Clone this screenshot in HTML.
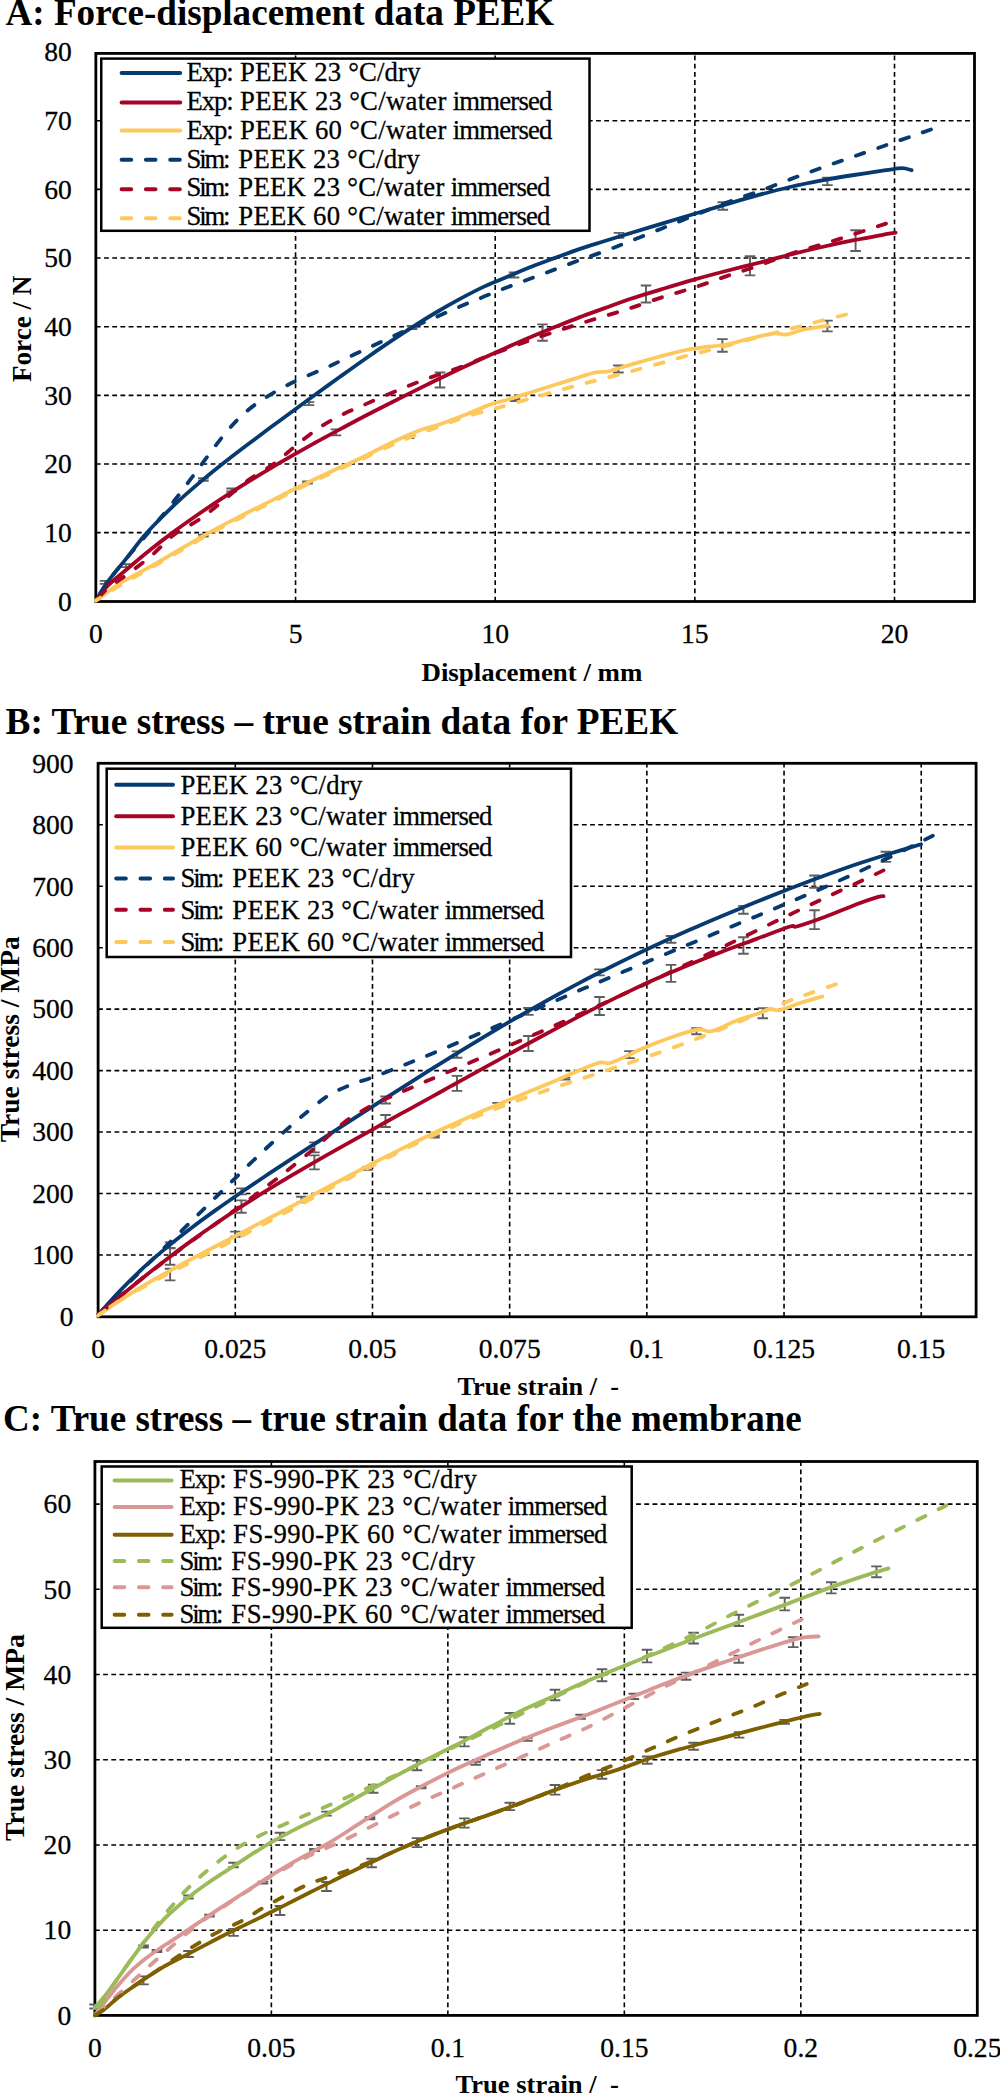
<!DOCTYPE html>
<html lang="en"><head><meta charset="utf-8"><title>Force-displacement and true stress - true strain data</title>
<style>html,body{margin:0;padding:0;background:#fff}body{width:1000px;height:2095px;overflow:hidden}svg{display:block}text{font-family:"Liberation Serif", "DejaVu Serif", serif;fill:#000}text.r{stroke:#000;stroke-width:.3px}</style></head><body>
<svg width="1000" height="2095" viewBox="0 0 1000 2095">
<rect width="1000" height="2095" fill="#fff"/>
<g>
<text transform="translate(5.5 25) scale(1.0035 1)" font-size="37" font-weight="bold" xml:space="preserve">A: Force-displacement data PEEK</text>
<g stroke="#000" stroke-width="1.6" stroke-dasharray="4.8 3.4" fill="none">
<line x1="295.55" y1="601.5" x2="295.55" y2="53.4"/>
<line x1="495.2" y1="601.5" x2="495.2" y2="53.4"/>
<line x1="694.85" y1="601.5" x2="694.85" y2="53.4"/>
<line x1="894.5" y1="601.5" x2="894.5" y2="53.4"/>
<line x1="95.85" y1="532.65" x2="974.5" y2="532.65"/>
<line x1="95.85" y1="464" x2="974.5" y2="464"/>
<line x1="95.85" y1="395.35" x2="974.5" y2="395.35"/>
<line x1="95.85" y1="326.7" x2="974.5" y2="326.7"/>
<line x1="95.85" y1="258.05" x2="974.5" y2="258.05"/>
<line x1="95.85" y1="189.4" x2="974.5" y2="189.4"/>
<line x1="95.85" y1="120.75" x2="974.5" y2="120.75"/>
</g>
<text transform="translate(95.9 643.1) scale(0.975 1)" font-size="28.3" text-anchor="middle" class="r" xml:space="preserve">0</text>
<text transform="translate(295.55 643.1) scale(0.975 1)" font-size="28.3" text-anchor="middle" class="r" xml:space="preserve">5</text>
<text transform="translate(495.2 643.1) scale(0.975 1)" font-size="28.3" text-anchor="middle" class="r" xml:space="preserve">10</text>
<text transform="translate(694.85 643.1) scale(0.975 1)" font-size="28.3" text-anchor="middle" class="r" xml:space="preserve">15</text>
<text transform="translate(894.5 643.1) scale(0.975 1)" font-size="28.3" text-anchor="middle" class="r" xml:space="preserve">20</text>
<text transform="translate(71.8 610.6) scale(0.975 1)" font-size="28.3" text-anchor="end" class="r" xml:space="preserve">0</text>
<text transform="translate(71.8 541.95) scale(0.975 1)" font-size="28.3" text-anchor="end" class="r" xml:space="preserve">10</text>
<text transform="translate(71.8 473.3) scale(0.975 1)" font-size="28.3" text-anchor="end" class="r" xml:space="preserve">20</text>
<text transform="translate(71.8 404.65) scale(0.975 1)" font-size="28.3" text-anchor="end" class="r" xml:space="preserve">30</text>
<text transform="translate(71.8 336) scale(0.975 1)" font-size="28.3" text-anchor="end" class="r" xml:space="preserve">40</text>
<text transform="translate(71.8 267.35) scale(0.975 1)" font-size="28.3" text-anchor="end" class="r" xml:space="preserve">50</text>
<text transform="translate(71.8 198.7) scale(0.975 1)" font-size="28.3" text-anchor="end" class="r" xml:space="preserve">60</text>
<text transform="translate(71.8 130.05) scale(0.975 1)" font-size="28.3" text-anchor="end" class="r" xml:space="preserve">70</text>
<text transform="translate(71.8 61.4) scale(0.975 1)" font-size="28.3" text-anchor="end" class="r" xml:space="preserve">80</text>
<text transform="translate(421.5 680.6) scale(1.0501 1)" font-size="25.6" font-weight="bold" xml:space="preserve">Displacement / mm</text>
<text transform="translate(30.8 328.8) rotate(-90) scale(0.9692 1)" font-size="28" text-anchor="middle" font-weight="bold" xml:space="preserve">Force / N</text>
<rect x="95.85" y="53.4" width="878.65" height="548.1" fill="none" stroke="#000" stroke-width="2.8"/>
<g stroke="#5f5f5f" stroke-width="1.9" fill="none">
<path d="M105 580.9V583.9M99.7 580.9H110.3M99.7 583.9H110.3"/>
<path d="M126 564.1V567.1M120.7 564.1H131.3M120.7 567.1H131.3"/>
<path d="M203.4 478.3V480.7M198.1 478.3H208.7M198.1 480.7H208.7"/>
<path d="M231.6 488.5V491.5M226.3 488.5H236.9M226.3 491.5H236.9"/>
<path d="M203.4 534.6V536.6M198.1 534.6H208.7M198.1 536.6H208.7"/>
<path d="M307.5 481.5V483.5M302.2 481.5H312.8M302.2 483.5H312.8"/>
<path d="M336 429.4V435.4M330.7 429.4H341.3M330.7 435.4H341.3"/>
<path d="M309 402.1V405.1M303.7 402.1H314.3M303.7 405.1H314.3"/>
<path d="M412 326V329M406.7 326H417.3M406.7 329H417.3"/>
<path d="M514 272.5V277.5M508.7 272.5H519.3M508.7 277.5H519.3"/>
<path d="M440 372.5V387.5M434.7 372.5H445.3M434.7 387.5H445.3"/>
<path d="M542.5 324.4V340.8M537.2 324.4H547.8M537.2 340.8H547.8"/>
<path d="M618.4 365.5V372.5M613.1 365.5H623.7M613.1 372.5H623.7"/>
<path d="M619 232.9V237.9M613.7 232.9H624.3M613.7 237.9H624.3"/>
<path d="M515 399V401M509.7 399H520.3M509.7 401H520.3"/>
<path d="M409 436V438M403.7 436H414.3M403.7 438H414.3"/>
<path d="M646 285.5V302.5M640.7 285.5H651.3M640.7 302.5H651.3"/>
<path d="M750 256.2V275.4M744.7 256.2H755.3M744.7 275.4H755.3"/>
<path d="M855.6 230.2V251M850.3 230.2H860.9M850.3 251H860.9"/>
<path d="M722.8 202.2V209.8M717.5 202.2H728.1M717.5 209.8H728.1"/>
<path d="M827.4 177.7V185.1M822.1 177.7H832.7M822.1 185.1H832.7"/>
<path d="M827.4 320.6V331.4M822.1 320.6H832.7M822.1 331.4H832.7"/>
<path d="M722.4 339.1V351.7M717.1 339.1H727.7M717.1 351.7H727.7"/>
</g>
<g fill="none" stroke-width="3.8" stroke-linecap="round" stroke-linejoin="round">
<path d="M96 600.5C98 597.32 103 588.33 108 581.4C113 574.47 120 566.45 126 558.9C132 551.35 138.5 542.58 144 536.1C149.5 529.62 153 526.07 159 520C165 513.93 173 506.13 180 499.7C187 493.27 194 487.3 201 481.4C208 475.5 214.5 470.23 222 464.3C229.5 458.37 238 451.88 246 445.8C254 439.72 262 433.73 270 427.8C278 421.87 287 415.33 294 410.2C301 405.07 304.33 402.57 312 397C319.67 391.43 331.33 383.02 340 376.8C348.67 370.58 356 365.3 364 359.7C372 354.1 380 348.58 388 343.2C396 337.82 404 332.52 412 327.4C420 322.28 428 317.25 436 312.5C444 307.75 452 303.22 460 298.9C468 294.58 476 290.33 484 286.6C492 282.87 500 279.83 508 276.5C516 273.17 524 269.75 532 266.6C540 263.45 548 260.55 556 257.6C564 254.65 572 251.62 580 248.9C588 246.18 595.67 243.92 604 241.3C612.33 238.68 620.33 236.15 630 233.2C639.67 230.25 651.33 226.8 662 223.6C672.67 220.4 683.33 217.2 694 214C704.67 210.8 715.33 207.53 726 204.4C736.67 201.27 747.33 198.1 758 195.2C768.67 192.3 779.33 189.47 790 187C800.67 184.53 811.33 182.4 822 180.4C832.67 178.4 843.33 176.7 854 175C864.67 173.3 878 171.33 886 170.2C894 169.07 897.73 168.2 902 168.2C906.27 168.2 910 169.87 911.6 170.2" stroke="#073a70"/>
<path d="M96 600.5C98 598 103 590.58 108 585.5C113 580.42 119 575.92 126 570C133 564.08 142 556.4 150 550C158 543.6 166 537.52 174 531.6C182 525.68 190 520.03 198 514.5C206 508.97 214 503.63 222 498.4C230 493.17 238 488.07 246 483.1C254 478.13 262 473.33 270 468.6C278 463.87 286 459.27 294 454.7C302 450.13 310 445.62 318 441.2C326 436.78 334.33 432.32 342 428.2C349.67 424.08 356.33 420.5 364 416.5C371.67 412.5 380 408.27 388 404.2C396 400.13 404 396.08 412 392.1C420 388.12 428 384.18 436 380.3C444 376.42 452 372.57 460 368.8C468 365.03 476 361.35 484 357.7C492 354.05 500 350.43 508 346.9C516 343.37 524 339.88 532 336.5C540 333.12 548 329.83 556 326.6C564 323.37 572 320.13 580 317.1C588 314.07 595.67 311.42 604 308.4C612.33 305.38 620.33 302.22 630 299C639.67 295.78 651.33 292.33 662 289.1C672.67 285.87 683.33 282.62 694 279.6C704.67 276.58 715.33 273.77 726 271C736.67 268.23 747.33 265.73 758 263C768.67 260.27 779.33 257.27 790 254.6C800.67 251.93 811.33 249.4 822 247C832.67 244.6 843.33 242.33 854 240.2C864.67 238.07 879.07 235.47 886 234.2C892.93 232.93 894 232.87 895.6 232.6" stroke="#a60426"/>
<path d="M96 600.5C100 597.65 111 589.02 120 583.4C129 577.78 140 572.47 150 566.8C160 561.13 170 555.17 180 549.4C190 543.63 200 537.7 210 532.2C220 526.7 230 521.53 240 516.4C250 511.27 260.75 506.05 270 501.4C279.25 496.75 285.5 493.4 295.5 488.5C305.5 483.6 319.25 477 330 472C340.75 467 349.33 463.58 360 458.5C370.67 453.42 384.33 446.08 394 441.5C403.67 436.92 410 434 418 431C426 428 434 426.25 442 423.5C450 420.75 458 417.65 466 414.5C474 411.35 483 407.1 490 404.6C497 402.1 501 401.6 508 399.5C515 397.4 524 394.5 532 392C540 389.5 548 387 556 384.5C564 382 573.5 379 580 377C586.5 375 590.33 373.42 595 372.5C599.67 371.58 604.17 372.17 608 371.5C611.83 370.83 613.33 369.9 618 368.5C622.67 367.1 629 365.1 636 363.1C643 361.1 652 358.6 660 356.5C668 354.4 677 352 684 350.5C691 349 695 348.5 702 347.5C709 346.5 718 346 726 344.5C734 343 742 340.35 750 338.5C758 336.65 768 334.05 774 333.4C780 332.75 781 335.25 786 334.6C791 333.95 797 331 804 329.5C811 328 824 326.25 828 325.6" stroke="#fdc85c"/>
<path d="M96 600.5C98 597.32 103 588.33 108 581.4C113 574.47 120 566.17 126 558.9C132 551.63 138.5 544.32 144 537.8C149.5 531.28 153.98 525.93 159 519.8C164.02 513.67 169.02 507.52 174.1 501C179.18 494.48 184.88 486.83 189.5 480.7C194.12 474.57 197.77 469.63 201.8 464.2C205.83 458.77 209.75 453.3 213.7 448.1C217.65 442.9 221.57 437.7 225.5 433C229.43 428.3 233.37 423.85 237.3 419.9C241.23 415.95 245.65 412.2 249.1 409.3C252.55 406.4 254.98 404.62 258 402.5C261.02 400.38 263.02 399.12 267.2 396.6C271.38 394.08 277.63 390.33 283.1 387.4C288.57 384.47 293.02 382.18 300 379C306.98 375.82 318.33 371.27 325 368.3C331.67 365.33 333.5 364.27 340 361.2C346.5 358.13 356 353.67 364 349.9C372 346.13 380 342.33 388 338.6C396 334.87 404 331.1 412 327.5C420 323.9 428 320.5 436 317C444 313.5 452 309.9 460 306.5C468 303.1 476 299.85 484 296.6C492 293.35 500 290.1 508 287C516 283.9 524 281 532 278C540 275 548 272 556 269C564 266 572 262.93 580 260C588 257.07 595.67 254.52 604 251.4C612.33 248.28 620.33 245.13 630 241.3C639.67 237.47 651.33 232.68 662 228.4C672.67 224.12 683.33 219.87 694 215.6C704.67 211.33 715.33 206.8 726 202.8C736.67 198.8 747.33 195.5 758 191.6C768.67 187.7 779.33 183.4 790 179.4C800.67 175.4 811.33 171.43 822 167.6C832.67 163.77 843.33 160.13 854 156.4C864.67 152.67 875.33 148.93 886 145.2C896.67 141.47 910.5 136.62 918 134C925.5 131.38 928.83 130.25 931 129.5" stroke="#073a70" stroke-dasharray="8.8 14.8" stroke-dashoffset="16.27"/>
<path d="M96 600.5C98 598.43 103 592.32 108 588.1C113 583.88 119 580.4 126 575.2C133 570 142 563.65 150 556.9C158 550.15 166 540.8 174 534.7C182 528.6 190 525.78 198 520.3C206 514.82 214 508.22 222 501.8C230 495.38 238 487.7 246 481.8C254 475.9 264 470.5 270 466.4C276 462.3 278 460.42 282 457.2C286 453.98 290 450.38 294 447.1C298 443.82 302 440.58 306 437.5C310 434.42 314 431.33 318 428.6C322 425.87 325.5 423.65 330 421.1C334.5 418.55 339.33 416 345 413.3C350.67 410.6 356.83 408.05 364 404.9C371.17 401.75 380 397.8 388 394.4C396 391 404 387.65 412 384.5C420 381.35 428 378.35 436 375.5C444 372.65 452 370.4 460 367.4C468 364.4 476 360.65 484 357.5C492 354.35 500 351.5 508 348.5C516 345.5 524 342.35 532 339.5C540 336.65 548 334.05 556 331.4C564 328.75 572 326.12 580 323.6C588 321.08 595.67 318.85 604 316.3C612.33 313.75 620.33 311.47 630 308.3C639.67 305.13 651.33 300.75 662 297.3C672.67 293.85 683.33 291.08 694 287.6C704.67 284.12 715.33 280.03 726 276.4C736.67 272.77 747.33 269.53 758 265.8C768.67 262.07 779.33 257.57 790 254C800.67 250.43 811.33 247.7 822 244.4C832.67 241.1 843.33 237.67 854 234.2C864.67 230.73 880.67 225.37 886 223.6" stroke="#a60426" stroke-dasharray="8.8 14.8" stroke-dashoffset="19.3"/>
<path d="M96 600.5C100 597.98 111 590.77 120 585.4C129 580.03 140 574.03 150 568.3C160 562.57 170 556.75 180 551C190 545.25 200 539.3 210 533.8C220 528.3 230 523.13 240 518C250 512.87 260.75 507.65 270 503C279.25 498.35 285.5 495.02 295.5 490.1C305.5 485.18 319.25 478.53 330 473.5C340.75 468.47 349.33 464.82 360 459.9C370.67 454.98 384.33 448.28 394 444C403.67 439.72 410 437.28 418 434.2C426 431.12 434 428.42 442 425.5C450 422.58 458 419.28 466 416.7C474 414.12 483 411.95 490 410C497 408.05 501 407 508 405C515 403 524 400.27 532 398C540 395.73 548 393.65 556 391.4C564 389.15 572.17 386.6 580 384.5C587.83 382.4 594.67 380.95 603 378.8C611.33 376.65 620.5 374.17 630 371.6C639.5 369.03 650 366.17 660 363.4C670 360.63 680 357.65 690 355C700 352.35 710 350.1 720 347.5C730 344.9 740 342.05 750 339.4C760 336.75 770 334.23 780 331.6C790 328.97 799 326.45 810 323.6C821 320.75 840 316.02 846 314.5" stroke="#fdc85c" stroke-dasharray="8.8 14.8" stroke-dashoffset="3.75"/>
</g>
<rect x="101.25" y="58.6" width="488.25" height="172.2" fill="#fff" stroke="#000" stroke-width="2.5"/>
<line x1="121.6" y1="73" x2="180.2" y2="73" stroke="#073a70" stroke-width="4" stroke-linecap="round"/>
<text transform="translate(186.5 81.3) scale(0.972 1)" font-size="27.5" class="r" textLength="48.66" lengthAdjust="spacing" xml:space="preserve">Exp:</text>
<text transform="translate(240.1 81.3) scale(0.972 1)" font-size="27.5" class="r" textLength="185.6" lengthAdjust="spacing" xml:space="preserve">PEEK 23 °C/dry</text>
<line x1="121.6" y1="102.4" x2="180.2" y2="102.4" stroke="#a60426" stroke-width="4" stroke-linecap="round"/>
<text transform="translate(186.5 110.4) scale(0.972 1)" font-size="27.5" class="r" textLength="48.66" lengthAdjust="spacing" xml:space="preserve">Exp:</text>
<text transform="translate(240.1 110.4) scale(0.972 1)" font-size="27.5" class="r" textLength="212.24" lengthAdjust="spacing" xml:space="preserve">PEEK 23 °C/water</text>
<text transform="translate(452.7 110.4) scale(0.972 1)" font-size="27.5" class="r" textLength="102.67" lengthAdjust="spacing" xml:space="preserve">immersed</text>
<line x1="121.6" y1="130.4" x2="180.2" y2="130.4" stroke="#fdc85c" stroke-width="4" stroke-linecap="round"/>
<text transform="translate(186.5 138.8) scale(0.972 1)" font-size="27.5" class="r" textLength="48.66" lengthAdjust="spacing" xml:space="preserve">Exp:</text>
<text transform="translate(240.1 138.8) scale(0.972 1)" font-size="27.5" class="r" textLength="212.24" lengthAdjust="spacing" xml:space="preserve">PEEK 60 °C/water</text>
<text transform="translate(452.7 138.8) scale(0.972 1)" font-size="27.5" class="r" textLength="102.67" lengthAdjust="spacing" xml:space="preserve">immersed</text>
<line x1="121.6" y1="159.8" x2="180.2" y2="159.8" stroke="#073a70" stroke-width="4" stroke-linecap="round" stroke-dasharray="9.6 14.7"/>
<text transform="translate(186.5 167.6) scale(0.972 1)" font-size="27.5" class="r" textLength="45.27" lengthAdjust="spacing" xml:space="preserve">Sim:</text>
<text transform="translate(238.3 167.6) scale(0.972 1)" font-size="27.5" class="r" textLength="186.73" lengthAdjust="spacing" xml:space="preserve">PEEK 23 °C/dry</text>
<line x1="121.6" y1="189.2" x2="180.2" y2="189.2" stroke="#a60426" stroke-width="4" stroke-linecap="round" stroke-dasharray="9.6 14.7"/>
<text transform="translate(186.5 196.4) scale(0.972 1)" font-size="27.5" class="r" textLength="45.27" lengthAdjust="spacing" xml:space="preserve">Sim:</text>
<text transform="translate(238.3 196.4) scale(0.972 1)" font-size="27.5" class="r" textLength="212.04" lengthAdjust="spacing" xml:space="preserve">PEEK 23 °C/water</text>
<text transform="translate(450.7 196.4) scale(0.972 1)" font-size="27.5" class="r" textLength="102.67" lengthAdjust="spacing" xml:space="preserve">immersed</text>
<line x1="121.6" y1="218.2" x2="180.2" y2="218.2" stroke="#fdc85c" stroke-width="4" stroke-linecap="round" stroke-dasharray="9.6 14.7"/>
<text transform="translate(186.5 225.2) scale(0.972 1)" font-size="27.5" class="r" textLength="45.27" lengthAdjust="spacing" xml:space="preserve">Sim:</text>
<text transform="translate(238.3 225.2) scale(0.972 1)" font-size="27.5" class="r" textLength="212.04" lengthAdjust="spacing" xml:space="preserve">PEEK 60 °C/water</text>
<text transform="translate(450.7 225.2) scale(0.972 1)" font-size="27.5" class="r" textLength="102.67" lengthAdjust="spacing" xml:space="preserve">immersed</text>
</g>
<g>
<text transform="translate(5.5 733.6) scale(1.0085 1)" font-size="37" font-weight="bold" xml:space="preserve">B: True stress – true strain data for PEEK</text>
<g stroke="#000" stroke-width="1.6" stroke-dasharray="4.8 3.4" fill="none">
<line x1="235.29" y1="1316.8" x2="235.29" y2="763.3"/>
<line x1="372.48" y1="1316.8" x2="372.48" y2="763.3"/>
<line x1="509.66" y1="1316.8" x2="509.66" y2="763.3"/>
<line x1="646.85" y1="1316.8" x2="646.85" y2="763.3"/>
<line x1="784.04" y1="1316.8" x2="784.04" y2="763.3"/>
<line x1="921.23" y1="1316.8" x2="921.23" y2="763.3"/>
<line x1="98.1" y1="1254.95" x2="976.1" y2="1254.95"/>
<line x1="98.1" y1="1193.5" x2="976.1" y2="1193.5"/>
<line x1="98.1" y1="1132.05" x2="976.1" y2="1132.05"/>
<line x1="98.1" y1="1070.6" x2="976.1" y2="1070.6"/>
<line x1="98.1" y1="1009.15" x2="976.1" y2="1009.15"/>
<line x1="98.1" y1="947.7" x2="976.1" y2="947.7"/>
<line x1="98.1" y1="886.25" x2="976.1" y2="886.25"/>
<line x1="98.1" y1="824.8" x2="976.1" y2="824.8"/>
</g>
<text transform="translate(98.1 1358.4) scale(0.975 1)" font-size="28.3" text-anchor="middle" class="r" xml:space="preserve">0</text>
<text transform="translate(235.29 1358.4) scale(0.975 1)" font-size="28.3" text-anchor="middle" class="r" xml:space="preserve">0.025</text>
<text transform="translate(372.48 1358.4) scale(0.975 1)" font-size="28.3" text-anchor="middle" class="r" xml:space="preserve">0.05</text>
<text transform="translate(509.66 1358.4) scale(0.975 1)" font-size="28.3" text-anchor="middle" class="r" xml:space="preserve">0.075</text>
<text transform="translate(646.85 1358.4) scale(0.975 1)" font-size="28.3" text-anchor="middle" class="r" xml:space="preserve">0.1</text>
<text transform="translate(784.04 1358.4) scale(0.975 1)" font-size="28.3" text-anchor="middle" class="r" xml:space="preserve">0.125</text>
<text transform="translate(921.23 1358.4) scale(0.975 1)" font-size="28.3" text-anchor="middle" class="r" xml:space="preserve">0.15</text>
<text transform="translate(73.5 1325.7) scale(0.975 1)" font-size="28.3" text-anchor="end" class="r" xml:space="preserve">0</text>
<text transform="translate(73.5 1264.25) scale(0.975 1)" font-size="28.3" text-anchor="end" class="r" xml:space="preserve">100</text>
<text transform="translate(73.5 1202.8) scale(0.975 1)" font-size="28.3" text-anchor="end" class="r" xml:space="preserve">200</text>
<text transform="translate(73.5 1141.35) scale(0.975 1)" font-size="28.3" text-anchor="end" class="r" xml:space="preserve">300</text>
<text transform="translate(73.5 1079.9) scale(0.975 1)" font-size="28.3" text-anchor="end" class="r" xml:space="preserve">400</text>
<text transform="translate(73.5 1018.45) scale(0.975 1)" font-size="28.3" text-anchor="end" class="r" xml:space="preserve">500</text>
<text transform="translate(73.5 957) scale(0.975 1)" font-size="28.3" text-anchor="end" class="r" xml:space="preserve">600</text>
<text transform="translate(73.5 895.55) scale(0.975 1)" font-size="28.3" text-anchor="end" class="r" xml:space="preserve">700</text>
<text transform="translate(73.5 834.1) scale(0.975 1)" font-size="28.3" text-anchor="end" class="r" xml:space="preserve">800</text>
<text transform="translate(73.5 772.65) scale(0.975 1)" font-size="28.3" text-anchor="end" class="r" xml:space="preserve">900</text>
<text transform="translate(457.5 1394.8) scale(1.0262 1)" font-size="25.6" font-weight="bold" xml:space="preserve">True strain /  -</text>
<text transform="translate(19.2 1039.25) rotate(-90) scale(0.9824 1)" font-size="28" text-anchor="middle" font-weight="bold" xml:space="preserve">True stress / MPa</text>
<rect x="98.1" y="763.3" width="878" height="553.5" fill="none" stroke="#000" stroke-width="2.8"/>
<g stroke="#5f5f5f" stroke-width="1.9" fill="none">
<path d="M170.1 1242.4V1248M164.8 1242.4H175.4M164.8 1248H175.4"/>
<path d="M170.1 1248.4V1264.8M164.8 1248.4H175.4M164.8 1264.8H175.4"/>
<path d="M170.1 1268.8V1280.4M164.8 1268.8H175.4M164.8 1280.4H175.4"/>
<path d="M241.4 1188.4V1194.4M236.1 1188.4H246.7M236.1 1194.4H246.7"/>
<path d="M241.4 1200.4V1212.8M236.1 1200.4H246.7M236.1 1212.8H246.7"/>
<path d="M235.4 1231.6V1236.8M230.1 1231.6H240.7M230.1 1236.8H240.7"/>
<path d="M314.4 1142.4V1152.4M309.1 1142.4H319.7M309.1 1152.4H319.7"/>
<path d="M314.4 1155.4V1169.4M309.1 1155.4H319.7M309.1 1169.4H319.7"/>
<path d="M301.4 1196.8V1202.4M296.1 1196.8H306.7M296.1 1202.4H306.7"/>
<path d="M367.5 1166.9V1169.9M362.2 1166.9H372.8M362.2 1169.9H372.8"/>
<path d="M385.5 1115V1127M380.2 1115H390.8M380.2 1127H390.8"/>
<path d="M385.6 1096.5V1103.5M380.3 1096.5H390.9M380.3 1103.5H390.9"/>
<path d="M457 1051.4V1057.8M451.7 1051.4H462.3M451.7 1057.8H462.3"/>
<path d="M457 1075.9V1090.9M451.7 1075.9H462.3M451.7 1090.9H462.3"/>
<path d="M528.4 1007.9V1014.9M523.1 1007.9H533.7M523.1 1014.9H533.7"/>
<path d="M528.4 1036V1051M523.1 1036H533.7M523.1 1051H533.7"/>
<path d="M599.5 969.4V975.4M594.2 969.4H604.8M594.2 975.4H604.8"/>
<path d="M599.5 997V1015M594.2 997H604.8M594.2 1015H604.8"/>
<path d="M629.5 1051.1V1058.1M624.2 1051.1H634.8M624.2 1058.1H634.8"/>
<path d="M497.5 1102.9V1105.9M492.2 1102.9H502.8M492.2 1105.9H502.8"/>
<path d="M565 1077.6V1079.6M559.7 1077.6H570.3M559.7 1079.6H570.3"/>
<path d="M434.5 1135.5V1137.5M429.2 1135.5H439.8M429.2 1137.5H439.8"/>
<path d="M671 936V942.8M665.7 936H676.3M665.7 942.8H676.3"/>
<path d="M671 964.9V981.9M665.7 964.9H676.3M665.7 981.9H676.3"/>
<path d="M743.4 905.9V913.7M738.1 905.9H748.7M738.1 913.7H748.7"/>
<path d="M743.4 937.2V953.8M738.1 937.2H748.7M738.1 953.8H748.7"/>
<path d="M814.5 875.5V887.7M809.2 875.5H819.8M809.2 887.7H819.8"/>
<path d="M814.5 910.3V929.1M809.2 910.3H819.8M809.2 929.1H819.8"/>
<path d="M885.9 851.7V861.9M880.6 851.7H891.2M880.6 861.9H891.2"/>
<path d="M762.8 1008.1V1018.3M757.5 1008.1H768.1M757.5 1018.3H768.1"/>
<path d="M696.5 1028.2V1034.2M691.2 1028.2H701.8M691.2 1034.2H701.8"/>
</g>
<g fill="none" stroke-width="3.8" stroke-linecap="round" stroke-linejoin="round">
<path d="M98 1315C101.67 1310.97 112.33 1298.77 120 1290.8C127.67 1282.83 136 1274.6 144 1267.2C152 1259.8 160 1253.02 168 1246.4C176 1239.78 184 1233.58 192 1227.5C200 1221.42 208 1215.62 216 1209.9C224 1204.18 232 1198.68 240 1193.2C248 1187.72 255.67 1182.55 264 1177C272.33 1171.45 280.33 1166.22 290 1159.9C299.67 1153.58 311.33 1146.02 322 1139.1C332.67 1132.18 345.67 1123.77 354 1118.4C362.33 1113.03 366.67 1110.32 372 1106.9C377.33 1103.48 378.33 1102.78 386 1097.9C393.67 1093.02 407.33 1084.32 418 1077.6C428.67 1070.88 443 1061.97 450 1057.6C457 1053.23 454.33 1054.87 460 1051.4C465.67 1047.93 476 1041.6 484 1036.8C492 1032 500 1027.27 508 1022.6C516 1017.93 524 1013.32 532 1008.8C540 1004.28 548 999.87 556 995.5C564 991.13 572 986.8 580 982.6C588 978.4 596 974.33 604 970.3C612 966.27 619.67 962.45 628 958.4C636.33 954.35 644 950.63 654 946C664 941.37 676.67 935.6 688 930.6C699.33 925.6 710.67 920.77 722 916C733.33 911.23 744.67 906.57 756 902C767.33 897.43 778.67 892.97 790 888.6C801.33 884.23 812.67 879.93 824 875.8C835.33 871.67 846.67 867.6 858 863.8C869.33 860 881.5 856.27 892 853C902.5 849.73 916.17 845.67 921 844.2" stroke="#073a70"/>
<path d="M98 1315C101.67 1311.9 112.33 1302.75 120 1296.4C127.67 1290.05 136 1283.27 144 1276.9C152 1270.53 160 1264.28 168 1258.2C176 1252.12 184 1246.18 192 1240.4C200 1234.62 208 1229 216 1223.5C224 1218 232 1212.62 240 1207.4C248 1202.18 255.67 1197.37 264 1192.2C272.33 1187.03 280.33 1182.13 290 1176.4C299.67 1170.67 311.33 1163.9 322 1157.8C332.67 1151.7 345.67 1144.47 354 1139.8C362.33 1135.13 366.67 1132.77 372 1129.8C377.33 1126.83 381 1124.77 386 1122C391 1119.23 396.67 1116.13 402 1113.2C407.33 1110.27 412.67 1107.33 418 1104.4C423.33 1101.47 428.67 1098.55 434 1095.6C439.33 1092.65 445.67 1089.1 450 1086.7C454.33 1084.3 454.33 1084.33 460 1081.2C465.67 1078.07 476 1072.32 484 1067.9C492 1063.48 500 1059.1 508 1054.7C516 1050.3 524 1045.85 532 1041.5C540 1037.15 548 1032.87 556 1028.6C564 1024.33 572 1020.07 580 1015.9C588 1011.73 596 1007.6 604 1003.6C612 999.6 619.67 995.87 628 991.9C636.33 987.93 644 984.25 654 979.8C664 975.35 676.67 969.88 688 965.2C699.33 960.52 710.67 956.05 722 951.7C733.33 947.35 744.67 943.3 756 939.1C767.33 934.9 783.2 928.6 790 926.5C796.8 924.4 791.13 928.03 796.8 926.5C802.47 924.97 813.8 921.1 824 917.3C834.2 913.5 848.93 907.1 858 903.7C867.07 900.3 874.15 898.15 878.4 896.9C882.65 895.65 882.65 896.32 883.5 896.2" stroke="#a60426"/>
<path d="M98 1315.5C101.67 1312.97 111.33 1305.9 120 1300.3C128.67 1294.7 140 1287.75 150 1281.9C160 1276.05 170 1270.63 180 1265.2C190 1259.77 200 1254.57 210 1249.3C220 1244.03 230 1238.85 240 1233.6C250 1228.35 260 1223.08 270 1217.8C280 1212.52 288.67 1207.92 300 1201.9C311.33 1195.88 326 1188.05 338 1181.7C350 1175.35 361.33 1169.32 372 1163.8C382.67 1158.28 391.67 1153.73 402 1148.6C412.33 1143.47 426 1136.83 434 1133C442 1129.17 443.67 1128.48 450 1125.6C456.33 1122.72 464.33 1119.07 472 1115.7C479.67 1112.33 489 1108.37 496 1105.4C503 1102.43 507 1100.8 514 1097.9C521 1095 530 1091.33 538 1088C546 1084.67 554 1081.32 562 1077.9C570 1074.48 579.5 1070.08 586 1067.5C592.5 1064.92 597 1063.15 601 1062.4C605 1061.65 605.5 1064.15 610 1063C614.5 1061.85 623 1057.75 628 1055.5C633 1053.25 632.27 1052.7 640 1049.5C647.73 1046.3 664.7 1039.63 674.4 1036.3C684.1 1032.97 691.97 1030.35 698.2 1029.5C704.43 1028.65 705.57 1032.62 711.8 1031.2C718.03 1029.78 728.23 1023.83 735.6 1021C742.97 1018.17 750.33 1016.18 756 1014.2C761.67 1012.22 765.63 1009.78 769.6 1009.1C773.57 1008.42 774.7 1011.12 779.8 1010.1C784.9 1009.08 793.12 1005.27 800.2 1003C807.28 1000.73 818.62 997.58 822.3 996.5" stroke="#fdc85c"/>
<path d="M98 1315C101.67 1311.07 112.33 1299.25 120 1291.4C127.67 1283.55 136 1275.77 144 1267.9C152 1260.03 160 1252.08 168 1244.2C176 1236.32 185 1227.48 192 1220.6C199 1213.72 204 1208.8 210 1202.9C216 1197 222 1191.08 228 1185.2C234 1179.32 240 1173.4 246 1167.6C252 1161.8 258 1156.03 264 1150.4C270 1144.77 276.5 1138.78 282 1133.8C287.5 1128.82 292.47 1124.42 297 1120.5C301.53 1116.58 303.97 1114.47 309.2 1110.3C314.43 1106.13 321.47 1099.77 328.4 1095.5C335.33 1091.23 343.53 1087.68 350.8 1084.7C358.07 1081.72 364.53 1080.33 372 1077.6C379.47 1074.87 387.93 1071.33 395.6 1068.3C403.27 1065.27 410.27 1062.55 418 1059.4C425.73 1056.25 434 1052.77 442 1049.4C450 1046.03 458 1042.6 466 1039.2C474 1035.8 482 1032.43 490 1029C498 1025.57 506 1022.05 514 1018.6C522 1015.15 530 1011.75 538 1008.3C546 1004.85 554 1001.35 562 997.9C570 994.45 578 991.02 586 987.6C594 984.18 601 981.22 610 977.4C619 973.58 632.67 967.78 640 964.7C647.33 961.62 646 962.23 654 958.9C662 955.57 676.67 949.43 688 944.7C699.33 939.97 710.67 935.22 722 930.5C733.33 925.78 744.67 921.15 756 916.4C767.33 911.65 778.67 906.83 790 902C801.33 897.17 812.67 892.38 824 887.4C835.33 882.42 846.67 877.32 858 872.1C869.33 866.88 882.37 860.73 892 856.1C901.63 851.47 909 847.7 915.8 844.3C922.6 840.9 929.97 837.13 932.8 835.7" stroke="#073a70" stroke-dasharray="8.8 14.8" stroke-dashoffset="23.35"/>
<path d="M98 1315C101.67 1311.88 112.33 1302.65 120 1296.3C127.67 1289.95 136 1283.18 144 1276.9C152 1270.62 160 1264.6 168 1258.6C176 1252.6 184 1246.73 192 1240.9C200 1235.07 208 1229.38 216 1223.6C224 1217.82 232.5 1211.68 240 1206.2C247.5 1200.72 254.47 1195.6 261 1190.7C267.53 1185.8 273.82 1180.97 279.2 1176.8C284.58 1172.63 287.47 1170.4 293.3 1165.7C299.13 1161 307.75 1154.08 314.2 1148.6C320.65 1143.12 326.15 1137.78 332 1132.8C337.85 1127.82 342.63 1123.25 349.3 1118.7C355.97 1114.15 364.55 1109.42 372 1105.5C379.45 1101.58 386.87 1098.42 394 1095.2C401.13 1091.98 407.6 1089.3 414.8 1086.2C422 1083.1 428.67 1080.25 437.2 1076.6C445.73 1072.95 457.2 1068.07 466 1064.3C474.8 1060.53 482 1057.47 490 1054C498 1050.53 506 1047 514 1043.5C522 1040 530 1036.53 538 1033C546 1029.47 554 1025.9 562 1022.3C570 1018.7 578 1015.05 586 1011.4C594 1007.75 601 1004.55 610 1000.4C619 996.25 632.67 989.92 640 986.5C647.33 983.08 646 983.7 654 979.9C662 976.1 676.67 969.12 688 963.7C699.33 958.28 710.67 952.87 722 947.4C733.33 941.93 744.67 936.38 756 930.9C767.33 925.42 778.67 919.93 790 914.5C801.33 909.07 812.67 903.63 824 898.3C835.33 892.97 848.08 887.15 858 882.5C867.92 877.85 879.25 872.42 883.5 870.4" stroke="#a60426" stroke-dasharray="8.8 14.8" stroke-dashoffset="20.85"/>
<path d="M98 1315.5C101.67 1313 111.33 1305.87 120 1300.5C128.67 1295.13 140 1288.78 150 1283.3C160 1277.82 170 1272.77 180 1267.6C190 1262.43 200 1257.43 210 1252.3C220 1247.17 230 1242.03 240 1236.8C250 1231.57 260 1226.25 270 1220.9C280 1215.55 288.67 1210.85 300 1204.7C311.33 1198.55 326 1190.47 338 1184C350 1177.53 361.33 1171.48 372 1165.9C382.67 1160.32 391.67 1155.63 402 1150.5C412.33 1145.37 426 1138.87 434 1135.1C442 1131.33 443.67 1130.68 450 1127.9C456.33 1125.12 464.33 1121.6 472 1118.4C479.67 1115.2 488 1111.82 496 1108.7C504 1105.58 512 1102.62 520 1099.7C528 1096.78 536 1093.97 544 1091.2C552 1088.43 560 1085.77 568 1083.1C576 1080.43 584 1077.83 592 1075.2C600 1072.57 608 1069.95 616 1067.3C624 1064.65 628 1063.5 640 1059.3C652 1055.1 672.17 1048.08 688 1042.1C703.83 1036.12 719.13 1029.87 735 1023.4C750.87 1016.93 770.63 1008.35 783.2 1003.3C795.77 998.25 801.62 996.27 810.4 993.1C819.18 989.93 831.65 985.77 835.9 984.3" stroke="#fdc85c" stroke-dasharray="8.8 14.8" stroke-dashoffset="0.13"/>
</g>
<rect x="106.7" y="768.7" width="464.3" height="188.3" fill="#fff" stroke="#000" stroke-width="2.5"/>
<line x1="116.2" y1="784.7" x2="173" y2="784.7" stroke="#073a70" stroke-width="4" stroke-linecap="round"/>
<text transform="translate(180.5 794) scale(0.972 1)" font-size="27.5" class="r" textLength="187.24" lengthAdjust="spacing" xml:space="preserve">PEEK 23 °C/dry</text>
<line x1="116.2" y1="816.2" x2="173" y2="816.2" stroke="#a60426" stroke-width="4" stroke-linecap="round"/>
<text transform="translate(180.5 825.2) scale(0.972 1)" font-size="27.5" class="r" textLength="211.83" lengthAdjust="spacing" xml:space="preserve">PEEK 23 °C/water</text>
<text transform="translate(392.7 825.2) scale(0.972 1)" font-size="27.5" class="r" textLength="102.67" lengthAdjust="spacing" xml:space="preserve">immersed</text>
<line x1="116.2" y1="847.4" x2="173" y2="847.4" stroke="#fdc85c" stroke-width="4" stroke-linecap="round"/>
<text transform="translate(180.5 856.2) scale(0.972 1)" font-size="27.5" class="r" textLength="211.83" lengthAdjust="spacing" xml:space="preserve">PEEK 60 °C/water</text>
<text transform="translate(392.7 856.2) scale(0.972 1)" font-size="27.5" class="r" textLength="102.67" lengthAdjust="spacing" xml:space="preserve">immersed</text>
<line x1="116.2" y1="878.6" x2="173" y2="878.6" stroke="#073a70" stroke-width="4" stroke-linecap="round" stroke-dasharray="9.6 14.7"/>
<text transform="translate(180.5 887.3) scale(0.972 1)" font-size="27.5" class="r" textLength="45.27" lengthAdjust="spacing" xml:space="preserve">Sim:</text>
<text transform="translate(232.3 887.3) scale(0.972 1)" font-size="27.5" class="r" textLength="187.45" lengthAdjust="spacing" xml:space="preserve">PEEK 23 °C/dry</text>
<line x1="116.2" y1="909.8" x2="173" y2="909.8" stroke="#a60426" stroke-width="4" stroke-linecap="round" stroke-dasharray="9.6 14.7"/>
<text transform="translate(180.5 918.8) scale(0.972 1)" font-size="27.5" class="r" textLength="45.27" lengthAdjust="spacing" xml:space="preserve">Sim:</text>
<text transform="translate(232.3 918.8) scale(0.972 1)" font-size="27.5" class="r" textLength="212.04" lengthAdjust="spacing" xml:space="preserve">PEEK 23 °C/water</text>
<text transform="translate(444.7 918.8) scale(0.972 1)" font-size="27.5" class="r" textLength="102.67" lengthAdjust="spacing" xml:space="preserve">immersed</text>
<line x1="116.2" y1="942" x2="173" y2="942" stroke="#fdc85c" stroke-width="4" stroke-linecap="round" stroke-dasharray="9.6 14.7"/>
<text transform="translate(180.5 950.6) scale(0.972 1)" font-size="27.5" class="r" textLength="45.27" lengthAdjust="spacing" xml:space="preserve">Sim:</text>
<text transform="translate(232.3 950.6) scale(0.972 1)" font-size="27.5" class="r" textLength="212.04" lengthAdjust="spacing" xml:space="preserve">PEEK 60 °C/water</text>
<text transform="translate(444.7 950.6) scale(0.972 1)" font-size="27.5" class="r" textLength="102.67" lengthAdjust="spacing" xml:space="preserve">immersed</text>
</g>
<g>
<text transform="translate(3 1431) scale(1.0015 1)" font-size="37" font-weight="bold" xml:space="preserve">C: True stress – true strain data for the membrane</text>
<g stroke="#000" stroke-width="1.6" stroke-dasharray="4.8 3.4" fill="none">
<line x1="271.38" y1="2015.4" x2="271.38" y2="1461.5"/>
<line x1="447.86" y1="2015.4" x2="447.86" y2="1461.5"/>
<line x1="624.34" y1="2015.4" x2="624.34" y2="1461.5"/>
<line x1="800.82" y1="2015.4" x2="800.82" y2="1461.5"/>
<line x1="94.9" y1="1930.18" x2="977.3" y2="1930.18"/>
<line x1="94.9" y1="1844.96" x2="977.3" y2="1844.96"/>
<line x1="94.9" y1="1759.74" x2="977.3" y2="1759.74"/>
<line x1="94.9" y1="1674.52" x2="977.3" y2="1674.52"/>
<line x1="94.9" y1="1589.3" x2="977.3" y2="1589.3"/>
<line x1="94.9" y1="1504.08" x2="977.3" y2="1504.08"/>
</g>
<text transform="translate(94.9 2057) scale(0.975 1)" font-size="28.3" text-anchor="middle" class="r" xml:space="preserve">0</text>
<text transform="translate(271.38 2057) scale(0.975 1)" font-size="28.3" text-anchor="middle" class="r" xml:space="preserve">0.05</text>
<text transform="translate(447.86 2057) scale(0.975 1)" font-size="28.3" text-anchor="middle" class="r" xml:space="preserve">0.1</text>
<text transform="translate(624.34 2057) scale(0.975 1)" font-size="28.3" text-anchor="middle" class="r" xml:space="preserve">0.15</text>
<text transform="translate(800.82 2057) scale(0.975 1)" font-size="28.3" text-anchor="middle" class="r" xml:space="preserve">0.2</text>
<text transform="translate(977.3 2057) scale(0.975 1)" font-size="28.3" text-anchor="middle" class="r" xml:space="preserve">0.25</text>
<text transform="translate(71.2 2024.7) scale(0.975 1)" font-size="28.3" text-anchor="end" class="r" xml:space="preserve">0</text>
<text transform="translate(71.2 1939.48) scale(0.975 1)" font-size="28.3" text-anchor="end" class="r" xml:space="preserve">10</text>
<text transform="translate(71.2 1854.26) scale(0.975 1)" font-size="28.3" text-anchor="end" class="r" xml:space="preserve">20</text>
<text transform="translate(71.2 1769.04) scale(0.975 1)" font-size="28.3" text-anchor="end" class="r" xml:space="preserve">30</text>
<text transform="translate(71.2 1683.82) scale(0.975 1)" font-size="28.3" text-anchor="end" class="r" xml:space="preserve">40</text>
<text transform="translate(71.2 1598.6) scale(0.975 1)" font-size="28.3" text-anchor="end" class="r" xml:space="preserve">50</text>
<text transform="translate(71.2 1513.38) scale(0.975 1)" font-size="28.3" text-anchor="end" class="r" xml:space="preserve">60</text>
<text transform="translate(455.5 2093.2) scale(1.0376 1)" font-size="25.6" font-weight="bold" xml:space="preserve">True strain /  -</text>
<text transform="translate(23.7 1737.5) rotate(-90) scale(0.9871 1)" font-size="28" text-anchor="middle" font-weight="bold" xml:space="preserve">True stress / MPa</text>
<rect x="94.9" y="1461.5" width="882.4" height="553.9" fill="none" stroke="#000" stroke-width="2.8"/>
<g stroke="#5f5f5f" stroke-width="1.9" fill="none">
<path d="M94.6 2004.5V2008.5M89.3 2004.5H99.9M89.3 2008.5H99.9"/>
<path d="M143.5 1945.5V1947.5M138.2 1945.5H148.8M138.2 1947.5H148.8"/>
<path d="M143.5 1976.4V1984.4M138.2 1976.4H148.8M138.2 1984.4H148.8"/>
<path d="M157 1950V1952M151.7 1950H162.3M151.7 1952H162.3"/>
<path d="M188.5 1895.5V1898.5M183.2 1895.5H193.8M183.2 1898.5H193.8"/>
<path d="M188.5 1951V1957M183.2 1951H193.8M183.2 1957H193.8"/>
<path d="M209.5 1914.6V1916.6M204.2 1914.6H214.8M204.2 1916.6H214.8"/>
<path d="M233.5 1862.8V1867.2M228.2 1862.8H238.8M228.2 1867.2H238.8"/>
<path d="M233.5 1928.9V1935.9M228.2 1928.9H238.8M228.2 1935.9H238.8"/>
<path d="M263 1881.6V1883.6M257.7 1881.6H268.3M257.7 1883.6H268.3"/>
<path d="M280 1832.7V1840.1M274.7 1832.7H285.3M274.7 1840.1H285.3"/>
<path d="M280 1906V1915M274.7 1906H285.3M274.7 1915H285.3"/>
<path d="M314.5 1849V1851M309.2 1849H319.8M309.2 1851H319.8"/>
<path d="M326.5 1811.6V1815.6M321.2 1811.6H331.8M321.2 1815.6H331.8"/>
<path d="M326.5 1882V1891M321.2 1882H331.8M321.2 1891H331.8"/>
<path d="M371.6 1858.7V1867.3M366.3 1858.7H376.9M366.3 1867.3H376.9"/>
<path d="M373.2 1784.8V1792.8M367.9 1784.8H378.5M367.9 1792.8H378.5"/>
<path d="M370 1817.2V1819.2M364.7 1817.2H375.3M364.7 1819.2H375.3"/>
<path d="M417 1760.6V1770.2M411.7 1760.6H422.3M411.7 1770.2H422.3"/>
<path d="M421.2 1786.2V1788.2M415.9 1786.2H426.5M415.9 1788.2H426.5"/>
<path d="M417 1838.1V1847.1M411.7 1838.1H422.3M411.7 1847.1H422.3"/>
<path d="M464.4 1737.2V1746.4M459.1 1737.2H469.7M459.1 1746.4H469.7"/>
<path d="M475.6 1761.7V1764.7M470.3 1761.7H480.9M470.3 1764.7H480.9"/>
<path d="M464.4 1818.4V1827.6M459.1 1818.4H469.7M459.1 1827.6H469.7"/>
<path d="M509.8 1713V1723.8M504.5 1713H515.1M504.5 1723.8H515.1"/>
<path d="M527.4 1737.7V1740.7M522.1 1737.7H532.7M522.1 1740.7H532.7"/>
<path d="M509.8 1802.7V1810.1M504.5 1802.7H515.1M504.5 1810.1H515.1"/>
<path d="M555 1689.7V1700.3M549.7 1689.7H560.3M549.7 1700.3H560.3"/>
<path d="M580.6 1714.8V1718.8M575.3 1714.8H585.9M575.3 1718.8H585.9"/>
<path d="M555 1785V1794.6M549.7 1785H560.3M549.7 1794.6H560.3"/>
<path d="M602 1669.2V1681.2M596.7 1669.2H607.3M596.7 1681.2H607.3"/>
<path d="M633.8 1693.8V1699M628.5 1693.8H639.1M628.5 1699H639.1"/>
<path d="M602 1770.1V1778.7M596.7 1770.1H607.3M596.7 1778.7H607.3"/>
<path d="M647 1649.8V1662.4M641.7 1649.8H652.3M641.7 1662.4H652.3"/>
<path d="M693.6 1632.7V1643.5M688.3 1632.7H698.9M688.3 1643.5H698.9"/>
<path d="M738.8 1614.8V1626M733.5 1614.8H744.1M733.5 1626H744.1"/>
<path d="M784.7 1597.8V1610.4M779.4 1597.8H790M779.4 1610.4H790"/>
<path d="M831.3 1582.2V1593.4M826 1582.2H836.6M826 1593.4H836.6"/>
<path d="M876.5 1566.4V1577.2M871.2 1566.4H881.8M871.2 1577.2H881.8"/>
<path d="M686.1 1672.6V1679.8M680.8 1672.6H691.4M680.8 1679.8H691.4"/>
<path d="M738.8 1655.6V1662.8M733.5 1655.6H744.1M733.5 1662.8H744.1"/>
<path d="M793.2 1637.3V1647.1M787.9 1637.3H798.5M787.9 1647.1H798.5"/>
<path d="M647.3 1756.5V1763.7M642 1756.5H652.6M642 1763.7H652.6"/>
<path d="M693.6 1742.8V1749.8M688.3 1742.8H698.9M688.3 1749.8H698.9"/>
<path d="M739.1 1732.2V1737.6M733.8 1732.2H744.4M733.8 1737.6H744.4"/>
<path d="M784.6 1719.9V1723.9M779.3 1719.9H789.9M779.3 1723.9H789.9"/>
</g>
<g fill="none" stroke-width="3.8" stroke-linecap="round" stroke-linejoin="round">
<path d="M94.6 2008C96.5 2005.75 102.1 1999.5 106 1994.5C109.9 1989.5 113.5 1984.25 118 1978C122.5 1971.75 128 1963.8 133 1957C138 1950.2 143 1943.32 148 1937.2C153 1931.08 159.33 1924.27 163 1920.3C166.67 1916.33 165.83 1917.17 170 1913.4C174.17 1909.63 182 1902.57 188 1897.7C194 1892.83 200 1888.43 206 1884.2C212 1879.97 218 1876.23 224 1872.3C230 1868.37 236 1864.47 242 1860.6C248 1856.73 254.6 1852.45 260 1849.1C265.4 1845.75 268.07 1844.03 274.4 1840.5C280.73 1836.97 291.57 1831.22 298 1827.9C304.43 1824.58 307.67 1823.17 313 1820.6C318.33 1818.03 321.83 1816.85 330 1812.5C338.17 1808.15 351.33 1800.42 362 1794.5C372.67 1788.58 383.33 1782.75 394 1777C404.67 1771.25 415.33 1765.5 426 1760C436.67 1754.5 447.33 1749.5 458 1744C468.67 1738.5 479.33 1732.6 490 1727C500.67 1721.4 511.33 1715.57 522 1710.4C532.67 1705.23 543.33 1700.8 554 1696C564.67 1691.2 575.33 1686.22 586 1681.6C596.67 1676.98 607.83 1672.43 618 1668.3C628.17 1664.17 639.33 1659.82 647 1656.8C654.67 1653.78 655.5 1653.48 664 1650.2C672.5 1646.92 686.67 1641.38 698 1637.1C709.33 1632.82 720.67 1628.7 732 1624.5C743.33 1620.3 754.67 1616.15 766 1611.9C777.33 1607.65 788.67 1603.3 800 1599C811.33 1594.7 822.67 1590.17 834 1586.1C845.33 1582.03 858.93 1577.55 868 1574.6C877.07 1571.65 885 1569.43 888.4 1568.4" stroke="#9bbb59"/>
<path d="M94.9 2015C96.75 2012.58 102.15 2005.42 106 2000.5C109.85 1995.58 113.5 1990.72 118 1985.5C122.5 1980.28 128 1974 133 1969.2C138 1964.4 143 1960.5 148 1956.7C153 1952.9 159.33 1948.88 163 1946.4C166.67 1943.92 165.83 1944.55 170 1941.8C174.17 1939.05 182 1933.93 188 1929.9C194 1925.87 200 1921.65 206 1917.6C212 1913.55 218 1909.53 224 1905.6C230 1901.67 236 1897.87 242 1894C248 1890.13 255.05 1885.55 260 1882.4C264.95 1879.25 265.7 1878.72 271.7 1875.1C277.7 1871.48 288.95 1864.75 296 1860.7C303.05 1856.65 308 1854.07 314 1850.8C320 1847.53 324 1845.92 332 1841.1C340 1836.28 351.67 1828.48 362 1821.9C372.33 1815.32 383.33 1807.92 394 1801.6C404.67 1795.28 415.33 1789.6 426 1784C436.67 1778.4 447.33 1773.07 458 1768C468.67 1762.93 479.33 1758.3 490 1753.6C500.67 1748.9 511.33 1744.23 522 1739.8C532.67 1735.37 543.33 1731.1 554 1727C564.67 1722.9 575.33 1719.3 586 1715.2C596.67 1711.1 607.83 1706.45 618 1702.4C628.17 1698.35 639.33 1693.95 647 1690.9C654.67 1687.85 655.5 1687.4 664 1684.1C672.5 1680.8 686.67 1675.2 698 1671.1C709.33 1667 720.67 1663.32 732 1659.5C743.33 1655.68 755.8 1651.48 766 1648.2C776.2 1644.92 786.4 1641.65 793.2 1639.8C800 1637.95 802.55 1637.67 806.8 1637.1C811.05 1636.53 816.72 1636.52 818.7 1636.4" stroke="#d99795"/>
<path d="M94.9 2015.5C96.75 2014.25 102.15 2011 106 2008C109.85 2005 113.5 2001.03 118 1997.5C122.5 1993.97 128 1990.28 133 1986.8C138 1983.32 143 1979.88 148 1976.6C153 1973.32 159.33 1969.32 163 1967.1C166.67 1964.88 165.83 1965.47 170 1963.3C174.17 1961.13 182 1957.22 188 1954.1C194 1950.98 200 1947.73 206 1944.6C212 1941.47 218 1938.33 224 1935.3C230 1932.27 236 1929.35 242 1926.4C248 1923.45 255.05 1920.03 260 1917.6C264.95 1915.17 265.7 1914.82 271.7 1911.8C277.7 1908.78 288.95 1903.07 296 1899.5C303.05 1895.93 308 1893.42 314 1890.4C320 1887.38 326 1884.38 332 1881.4C338 1878.42 343.17 1875.8 350 1872.5C356.83 1869.2 365.67 1865.1 373 1861.6C380.33 1858.1 385.17 1855.48 394 1851.5C402.83 1847.52 415.33 1842.02 426 1837.7C436.67 1833.38 447.33 1829.48 458 1825.6C468.67 1821.72 479.33 1818.23 490 1814.4C500.67 1810.57 511.33 1806.6 522 1802.6C532.67 1798.6 543.33 1794.3 554 1790.4C564.67 1786.5 575.33 1782.67 586 1779.2C596.67 1775.73 607 1773.22 618 1769.6C629 1765.98 642 1760.82 652 1757.5C662 1754.18 669.33 1752.17 678 1749.7C686.67 1747.23 695.33 1745 704 1742.7C712.67 1740.4 721.33 1738.2 730 1735.9C738.67 1733.6 747.33 1731.17 756 1728.9C764.67 1726.63 773.33 1724.47 782 1722.3C790.67 1720.13 801.72 1717.32 808 1715.9C814.28 1714.48 817.75 1714.15 819.7 1713.8" stroke="#7f6000"/>
<path d="M94.9 2015C96.75 2011.83 102.15 2002.17 106 1996C109.85 1989.83 113.5 1984.5 118 1978C122.5 1971.5 128 1963.95 133 1957C138 1950.05 143 1943.02 148 1936.3C153 1929.58 158 1922.93 163 1916.7C168 1910.47 173 1904.47 178 1898.9C183 1893.33 188 1888.12 193 1883.3C198 1878.48 203 1874.22 208 1870C213 1865.78 218 1861.73 223 1858C228 1854.27 233 1850.77 238 1847.6C243 1844.43 248 1841.67 253 1839C258 1836.33 263 1833.95 268 1831.6C273 1829.25 278 1827.1 283 1824.9C288 1822.7 293 1820.55 298 1818.4C303 1816.25 307.67 1814.27 313 1812C318.33 1809.73 321.83 1808.4 330 1804.8C338.17 1801.2 351.33 1795.2 362 1790.4C372.67 1785.6 383.33 1780.9 394 1776C404.67 1771.1 415.33 1766.17 426 1761C436.67 1755.83 447.33 1750.23 458 1745C468.67 1739.77 479.33 1734.83 490 1729.6C500.67 1724.37 511.33 1718.93 522 1713.6C532.67 1708.27 543.33 1702.83 554 1697.6C564.67 1692.37 575.33 1687 586 1682.2C596.67 1677.4 607.83 1673.17 618 1668.8C628.17 1664.43 639.33 1659.42 647 1656C654.67 1652.58 655.5 1652.25 664 1648.3C672.5 1644.35 686.67 1637.97 698 1632.3C709.33 1626.63 720.67 1620.13 732 1614.3C743.33 1608.47 754.67 1602.97 766 1597.3C777.33 1591.63 788.67 1586.13 800 1580.3C811.33 1574.47 822.67 1568.25 834 1562.3C845.33 1556.35 856.67 1550.38 868 1544.6C879.33 1538.82 890.67 1533.27 902 1527.6C913.33 1521.93 928.63 1514.28 936 1510.6C943.37 1506.92 944.5 1506.35 946.2 1505.5" stroke="#9bbb59" stroke-dasharray="8.8 14.8" stroke-dashoffset="14.64"/>
<path d="M94.9 2015C96.75 2013.33 102.15 2008.42 106 2005C109.85 2001.58 113.5 1998.5 118 1994.5C122.5 1990.5 128 1985.55 133 1981C138 1976.45 143 1971.68 148 1967.2C153 1962.72 159.33 1957.32 163 1954.1C166.67 1950.88 167 1950.52 170 1947.9C173 1945.28 178 1940.98 181 1938.4C184 1935.82 183.83 1935.73 188 1932.4C192.17 1929.07 200 1922.73 206 1918.4C212 1914.07 218 1910.38 224 1906.4C230 1902.42 236 1898.4 242 1894.5C248 1890.6 255.05 1886.08 260 1883C264.95 1879.92 265.7 1879.42 271.7 1876C277.7 1872.58 288.95 1866.25 296 1862.5C303.05 1858.75 308 1856.32 314 1853.5C320 1850.68 326.83 1847.9 332 1845.6C337.17 1843.3 340 1842.1 345 1839.7C350 1837.3 353.83 1835.32 362 1831.2C370.17 1827.08 383.33 1820.2 394 1815C404.67 1809.8 415.33 1804.9 426 1800C436.67 1795.1 447.33 1790.4 458 1785.6C468.67 1780.8 479.33 1776 490 1771.2C500.67 1766.4 511.33 1761.6 522 1756.8C532.67 1752 543.33 1747.18 554 1742.4C564.67 1737.62 575.33 1733.25 586 1728.1C596.67 1722.95 609.53 1715.93 618 1711.5C626.47 1707.07 629.13 1705.55 636.8 1701.5C644.47 1697.45 653.8 1692.38 664 1687.2C674.2 1682.02 686.67 1676.03 698 1670.4C709.33 1664.77 720.67 1659.05 732 1653.4C743.33 1647.75 754.38 1642.17 766 1636.5C777.62 1630.83 795.75 1622.25 801.7 1619.4" stroke="#d99795" stroke-dasharray="8.8 14.8" stroke-dashoffset="20.25"/>
<path d="M94.9 2015.5C96.75 2014.25 102.15 2011 106 2008C109.85 2005 113.5 2001.03 118 1997.5C122.5 1993.97 128 1990.28 133 1986.8C138 1983.32 143 1979.98 148 1976.6C153 1973.22 158 1969.87 163 1966.5C168 1963.13 172.93 1959.77 178 1956.4C183.07 1953.03 187.23 1950.1 193.4 1946.3C199.57 1942.5 206.9 1937.85 215 1933.6C223.1 1929.35 233.9 1925.15 242 1920.8C250.1 1916.45 256.4 1911.67 263.6 1907.5C270.8 1903.33 278 1899.55 285.2 1895.8C292.4 1892.05 299.6 1888.15 306.8 1885C314 1881.85 321.2 1879.45 328.4 1876.9C335.6 1874.35 342.57 1872.38 350 1869.7C357.43 1867.02 365.67 1863.83 373 1860.8C380.33 1857.77 385.17 1855.33 394 1851.5C402.83 1847.67 415.33 1842.12 426 1837.8C436.67 1833.48 447.33 1829.5 458 1825.6C468.67 1821.7 479.33 1818.23 490 1814.4C500.67 1810.57 511.33 1806.67 522 1802.6C532.67 1798.53 543.33 1794.43 554 1790C564.67 1785.57 575.33 1780.47 586 1776C596.67 1771.53 607 1767.83 618 1763.2C629 1758.57 642 1752.6 652 1748.2C662 1743.8 669.33 1740.45 678 1736.8C686.67 1733.15 695.33 1729.78 704 1726.3C712.67 1722.82 721.33 1719.37 730 1715.9C738.67 1712.43 747.33 1709.13 756 1705.5C764.67 1701.87 773.55 1697.7 782 1694.1C790.45 1690.5 802.58 1685.6 806.7 1683.9" stroke="#7f6000" stroke-dasharray="8.8 14.8" stroke-dashoffset="22.61"/>
</g>
<rect x="101.7" y="1466.5" width="530" height="161.3" fill="#fff" stroke="#000" stroke-width="2.5"/>
<line x1="114.6" y1="1480.6" x2="171.6" y2="1480.6" stroke="#9bbb59" stroke-width="4" stroke-linecap="round"/>
<text transform="translate(179.5 1488.1) scale(0.972 1)" font-size="27.5" class="r" textLength="48.66" lengthAdjust="spacing" xml:space="preserve">Exp:</text>
<text transform="translate(233.1 1488.1) scale(0.972 1)" font-size="27.5" class="r" textLength="250.82" lengthAdjust="spacing" xml:space="preserve">FS-990-PK 23 °C/dry</text>
<line x1="114.6" y1="1507" x2="171.6" y2="1507" stroke="#d99795" stroke-width="4" stroke-linecap="round"/>
<text transform="translate(179.5 1515.3) scale(0.972 1)" font-size="27.5" class="r" textLength="48.66" lengthAdjust="spacing" xml:space="preserve">Exp:</text>
<text transform="translate(233.1 1515.3) scale(0.972 1)" font-size="27.5" class="r" textLength="276.03" lengthAdjust="spacing" xml:space="preserve">FS-990-PK 23 °C/water</text>
<text transform="translate(507.7 1515.3) scale(0.972 1)" font-size="27.5" class="r" textLength="102.67" lengthAdjust="spacing" xml:space="preserve">immersed</text>
<line x1="114.6" y1="1534.7" x2="171.6" y2="1534.7" stroke="#7f6000" stroke-width="4" stroke-linecap="round"/>
<text transform="translate(179.5 1542.5) scale(0.972 1)" font-size="27.5" class="r" textLength="48.66" lengthAdjust="spacing" xml:space="preserve">Exp:</text>
<text transform="translate(233.1 1542.5) scale(0.972 1)" font-size="27.5" class="r" textLength="276.03" lengthAdjust="spacing" xml:space="preserve">FS-990-PK 60 °C/water</text>
<text transform="translate(507.7 1542.5) scale(0.972 1)" font-size="27.5" class="r" textLength="102.67" lengthAdjust="spacing" xml:space="preserve">immersed</text>
<line x1="114.6" y1="1560.9" x2="171.6" y2="1560.9" stroke="#9bbb59" stroke-width="4" stroke-linecap="round" stroke-dasharray="9.6 14.7"/>
<text transform="translate(179.5 1569.7) scale(0.972 1)" font-size="27.5" class="r" textLength="45.27" lengthAdjust="spacing" xml:space="preserve">Sim:</text>
<text transform="translate(231.3 1569.7) scale(0.972 1)" font-size="27.5" class="r" textLength="250.72" lengthAdjust="spacing" xml:space="preserve">FS-990-PK 23 °C/dry</text>
<line x1="114.6" y1="1587.2" x2="171.6" y2="1587.2" stroke="#d99795" stroke-width="4" stroke-linecap="round" stroke-dasharray="9.6 14.7"/>
<text transform="translate(179.5 1596.2) scale(0.972 1)" font-size="27.5" class="r" textLength="45.27" lengthAdjust="spacing" xml:space="preserve">Sim:</text>
<text transform="translate(231.3 1596.2) scale(0.972 1)" font-size="27.5" class="r" textLength="275.51" lengthAdjust="spacing" xml:space="preserve">FS-990-PK 23 °C/water</text>
<text transform="translate(505.4 1596.2) scale(0.972 1)" font-size="27.5" class="r" textLength="102.67" lengthAdjust="spacing" xml:space="preserve">immersed</text>
<line x1="114.6" y1="1614.7" x2="171.6" y2="1614.7" stroke="#7f6000" stroke-width="4" stroke-linecap="round" stroke-dasharray="9.6 14.7"/>
<text transform="translate(179.5 1623.2) scale(0.972 1)" font-size="27.5" class="r" textLength="45.27" lengthAdjust="spacing" xml:space="preserve">Sim:</text>
<text transform="translate(231.3 1623.2) scale(0.972 1)" font-size="27.5" class="r" textLength="275.51" lengthAdjust="spacing" xml:space="preserve">FS-990-PK 60 °C/water</text>
<text transform="translate(505.4 1623.2) scale(0.972 1)" font-size="27.5" class="r" textLength="102.67" lengthAdjust="spacing" xml:space="preserve">immersed</text>
</g>
</svg></body></html>
